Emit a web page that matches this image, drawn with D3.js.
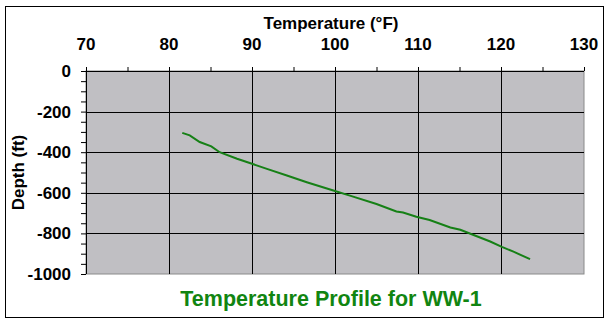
<!DOCTYPE html>
<html>
<head>
<meta charset="utf-8">
<script src="https://cdn.jsdelivr.net/npm/d3@7"></script>
<style>
  body { margin: 0; background: #fff; }
  text { font-family: "Liberation Sans", Arial, sans-serif; font-weight: bold; }
</style>
</head>
<body>
<div id="chart"></div>
<script>
// temperature (°F) vs depth (ft) for WW-1
const temps = [81.6, 82.5, 83.7, 85.1, 86.1, 88.2, 90.0, 91.8, 94.2, 96.6, 99.8, 101.8, 105.0, 107.4, 108.2, 109.8, 111.4, 113.9, 115.1, 116.7, 118.7, 120.1, 121.5, 123.5];
const depths = [-305, -317, -350, -371, -400, -432, -457, -482, -515, -548, -589, -614, -655, -692, -697, -718, -734, -771, -782, -808, -840, -866, -890, -927];
const xTicks = [70, 80, 90, 100, 110, 120, 130];
const yTicks = [0, -200, -400, -600, -800, -1000];

const width = 612, height = 324;
const pLeft = 86, pRight = 584, pTop = 71, pBottom = 274;

const svg = d3.select("#chart").append("svg")
    .attr("width", width)
    .attr("height", height);

// outer frame
svg.append("rect")
    .attr("x", 5.5).attr("y", 6.5)
    .attr("width", 598).attr("height", 311)
    .attr("fill", "#fff").attr("stroke", "#000");

const x = d3.scaleLinear().domain([70, 130]).range([pLeft, pRight]);
const y = d3.scaleLinear().domain([0, -1000]).range([pTop, pBottom]);

svg.append("rect")
    .attr("x", pLeft).attr("y", pTop)
    .attr("width", pRight - pLeft).attr("height", pBottom - pTop)
    .attr("fill", "#c0bfc3")
    .attr("stroke", "#8a8a8a");

// grid
svg.append("g").selectAll("line")
    .data(xTicks.slice(1, -1))
    .enter().append("line")
    .attr("x1", d => Math.round(x(d)) + 0.5).attr("x2", d => Math.round(x(d)) + 0.5)
    .attr("y1", pTop).attr("y2", pBottom)
    .attr("stroke", "#000");

svg.append("g").selectAll("line")
    .data(yTicks.slice(1, -1))
    .enter().append("line")
    .attr("x1", pLeft).attr("x2", pRight)
    .attr("y1", d => Math.round(y(d)) + 0.5).attr("y2", d => Math.round(y(d)) + 0.5)
    .attr("stroke", "#000");

// axes
const xAxis = d3.axisTop(x)
    .tickValues(d3.range(70, 131, 5))
    .tickSize(4)
    .tickFormat("");
svg.append("g")
    .attr("transform", `translate(0,${pTop})`)
    .call(xAxis)
    .call(g => g.select(".domain").attr("d", `M${pLeft},0.5H${pRight}`))
    .call(g => g.selectAll("line").attr("stroke", "#000"));

svg.append("g").selectAll("text")
    .data(xTicks)
    .enter().append("text")
    .attr("x", d => x(d))
    .attr("y", 50)
    .attr("text-anchor", "middle")
    .attr("font-size", 17)
    .text(d => d);

const yAxis = d3.axisLeft(y)
    .tickValues(d3.range(0, -1001, -50))
    .tickSize(5)
    .tickFormat("");
svg.append("g")
    .attr("transform", `translate(${pLeft},0)`)
    .call(yAxis)
    .call(g => g.select(".domain").attr("d", `M0.5,${pTop}V${pBottom}`))
    .call(g => g.selectAll("line").attr("stroke", "#000"));

svg.append("g").selectAll("text")
    .data(yTicks)
    .enter().append("text")
    .attr("x", 71)
    .attr("y", d => y(d) + 6)
    .attr("text-anchor", "end")
    .attr("font-size", 17)
    .text(d => d);

// data line
const line = d3.line()
    .x(d => x(d[0]))
    .y(d => y(d[1]));

svg.append("path")
    .datum(d3.zip(temps, depths))
    .attr("d", line)
    .attr("fill", "none")
    .attr("stroke", "#168016")
    .attr("stroke-width", 2);

// labels
svg.append("text")
    .attr("x", 331).attr("y", 29)
    .attr("text-anchor", "middle")
    .attr("font-size", 17)
    .text("Temperature (°F)");

svg.append("text")
    .attr("transform", `translate(24,${(pTop + pBottom) / 2}) rotate(-90)`)
    .attr("text-anchor", "middle")
    .attr("font-size", 17)
    .text("Depth (ft)");

svg.append("text")
    .attr("x", 331).attr("y", 306)
    .attr("text-anchor", "middle")
    .attr("font-size", 21.5)
    .attr("fill", "#118511")
    .text("Temperature Profile for WW-1");
</script>
</body>
</html>
